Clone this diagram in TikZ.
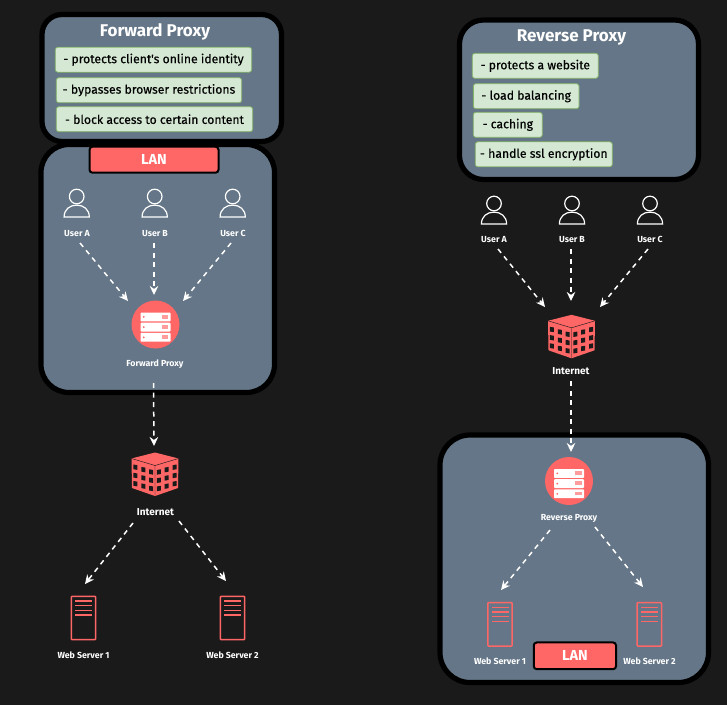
\documentclass[tikz,border=0pt]{standalone}
\usepackage{fontspec}
\setmainfont{Fira Sans}
\newfontfamily\medf{Fira Sans}[FakeBold=0.35]
\usetikzlibrary{arrows.meta}
\definecolor{bgc}{HTML}{1A1A1A}
\definecolor{panelc}{HTML}{647687}
\definecolor{greenf}{HTML}{D5E8D4}
\definecolor{greend}{HTML}{82B366}
\definecolor{redc}{HTML}{FF6666}
\tikzset{
  panel/.style={draw=black,fill=panelc,line width=5.2pt,rounded corners=#1},
  tagbox/.style={draw=greend,fill=greenf,line width=0.8pt,rounded corners=2.5pt,inner sep=0pt,outer sep=0pt,minimum height=25pt,text=black,font=\medf\fontsize{12.2}{14}\selectfont},
  lanbox/.style={draw=black,fill=redc,line width=2pt,rounded corners=3pt,inner sep=0pt,outer sep=0pt,text=white,font=\bfseries\fontsize{14.5}{16}\selectfont},
  titletext/.style={text=white,inner sep=0pt,font=\bfseries\fontsize{17}{18}\selectfont},
  smalltext/.style={text=white,inner sep=0pt,font=\bfseries\fontsize{8.8}{10}\selectfont},
  midtext/.style={text=white,inner sep=0pt,font=\bfseries\fontsize{10}{12}\selectfont},
  flow/.style={draw=white,line width=1.5pt,dash pattern=on 5pt off 4.5pt,-{Stealth[length=9pt,width=8.5pt]}},
  usericon/.style={draw=white,line width=1.2pt},
  srvline/.style={draw=redc,line width=1.5pt},
}
% user icon: #1 name, #2 position
\newcommand{\usersym}[2]{\begin{scope}[shift={(#2)}]
  \coordinate (#1) at (0,0);
  \draw[usericon] (0,0) circle[radius=7.3pt];
  \draw[usericon] (-12.6,20.5) .. controls (-12.6,13) and (-7,8.6) .. (0,8.6) .. controls (7,8.6) and (12.6,13) .. (12.6,20.5) -- cycle;
\end{scope}}
% proxy icon
\newcommand{\proxysym}[2]{\begin{scope}[shift={(#2)}]
  \node[circle,fill=redc,minimum size=48pt,inner sep=0pt,outer sep=0pt] (#1) at (0,0) {};
  \foreach \yy in {-7.6,2.6,12.8}{
    \fill[white,rounded corners=0.8pt] (-15,\yy-4.4) rectangle (15,\yy+4.4);
    \fill[redc] (-11.7,\yy) circle[radius=1pt];
    \fill[redc!65!white] (6,\yy-2.2) rectangle (12.5,\yy+1.6);
  }
\end{scope}}
% building icon
\newcommand{\bldgsym}[2]{\begin{scope}[shift={(#2)}]
  \coordinate (#1) at (0,0);
  \fill[redc] (0,-21.5) -- (23.5,-15.5) -- (23,14) -- (0,22) -- (-23,14) -- (-23.5,-15.5) -- cycle;
  \draw[bgc,line width=0.45pt] (-23.5,-15.5) -- (0,-8.5) -- (23.5,-15.5) (0,-8.5) -- (0,22);
  \foreach \uu in {0.17,0.52,0.85}{\foreach \vv in {7.5,15.8,24}{
    \pgfmathsetmacro{\xa}{-23.5+23*\uu}
    \pgfmathsetmacro{\ya}{-15.5+7*\uu+\vv}
    \fill[bgc] (\xa-2,\ya-2.7) -- (\xa+2,\ya-2) -- (\xa+2,\ya+2.7) -- (\xa-2,\ya+2) -- cycle;
    \fill[bgc] (-\xa+2,\ya-2.7) -- (-\xa-2,\ya-2) -- (-\xa-2,\ya+2.7) -- (-\xa+2,\ya+2) -- cycle;
  }}
\end{scope}}
% web server icon
\newcommand{\serversym}[2]{\begin{scope}[shift={(#2)}]
  \coordinate (#1) at (0,0);
  \draw[srvline,rounded corners=0.8pt] (-12.2,-21.7) rectangle (12.2,21.7);
  \foreach \yy in {-17,-12.4,-7.6,-2.9}{\draw[srvline] (-8.5,\yy) -- (8.5,\yy);}
\end{scope}}
\begin{document}
\begin{tikzpicture}[x=1pt,y=-1pt]
\useasboundingbox (0,0) rectangle (727,705);
\fill[bgc] (0,0) rectangle (727,705);

% --- panels
\draw[panel=20pt] (42,14.5) rectangle (281.5,141.5);
\draw[panel=28pt] (41,144.5) rectangle (274.5,392.5);
\draw[panel=24pt] (459.5,20) rectangle (698.5,179.5);
\draw[panel=30pt] (440,435) rectangle (708.5,682.5);

% --- forward proxy notes
\node[titletext] (ftitle) at (155,31.5) {Forward Proxy};
\node[tagbox,minimum width=196.4pt] (f1) at (153.5,59.7) {\raisebox{-1pt}{- protects client's online identity}};
\node[tagbox,minimum width=185.4pt] (f2) at (149,90.2) {\raisebox{-1pt}{- bypasses browser restrictions}};
\node[tagbox,minimum width=196.4pt] (f3) at (154.5,119.2) {\raisebox{-1pt}{- block access to certain content}};
\node[lanbox,minimum width=129pt,minimum height=26pt] (lan1) at (154,159.7) {LAN};

% --- reverse proxy notes
\node[titletext] (rtitle) at (571.5,37.5) {Reverse Proxy};
\node[tagbox,minimum width=126pt] (r1) at (535.3,65.8) {\raisebox{-1pt}{- protects a website}};
\node[tagbox,minimum width=105.7pt] (r2) at (526.2,96.2) {\raisebox{-1pt}{- load balancing}};
\node[tagbox,minimum width=69pt] (r3) at (507.8,124.8) {\raisebox{-1pt}{- caching}};
\node[tagbox,minimum width=137pt] (r4) at (543.8,154.3) {\raisebox{-1pt}{- handle ssl encryption}};
\node[lanbox,minimum width=82.3pt,minimum height=26.7pt] (lan2) at (574.9,655.8) {LAN};

% --- left column
\usersym{fua}{76.7,196.5}
\usersym{fub}{154.7,196.5}
\usersym{fuc}{232.7,196.5}
\node[smalltext] (fla) at (77,233.5) {User A};
\node[smalltext] (flb) at (155,233.5) {User B};
\node[smalltext] (flc) at (233,233.5) {User C};
\proxysym{fp}{155.5,324.5}
\node[smalltext] (flp) at (155,364.5) {Forward Proxy};
\bldgsym{fi}{155,474}
\node[midtext] (fli) at (155.5,512) {Internet};
\serversym{fs1}{83.5,618}
\serversym{fs2}{232.5,618}
\node[smalltext] (fls1) at (83.5,655.5) {Web Server 1};
\node[smalltext] (fls2) at (232.5,655.5) {Web Server 2};

% --- right column
\usersym{rua}{494,203.5}
\usersym{rub}{572,203.5}
\usersym{ruc}{650,203.5}
\node[smalltext] (rla) at (494,239.5) {User A};
\node[smalltext] (rlb) at (572,239.5) {User B};
\node[smalltext] (rlc) at (650,239.5) {User C};
\bldgsym{ri}{571.5,336.3}
\node[midtext] (rli) at (571,371) {Internet};
\proxysym{rp}{569,481}
\node[smalltext] (rlp) at (569,518.5) {Reverse Proxy};
\serversym{rs1}{500,624.3}
\serversym{rs2}{649.3,624.3}
\node[smalltext] (rls1) at (500,661.5) {Web Server 1};
\node[smalltext] (rls2) at (649.5,661.5) {Web Server 2};

% --- connectors
\draw[flow] ([shift={(3,9.5)}]fla.center) -- ([shift={(-27.5,-23.5)}]fp.center);
\draw[flow] ([shift={(-1,9.5)}]flb.center) -- ([shift={(-1.5,-29.5)}]fp.center);
\draw[flow] ([shift={(-2,9.5)}]flc.center) -- ([shift={(27.5,-23.5)}]fp.center);
\draw[flow] ([shift={(-1.5,18.5)}]flp.center) -- ([shift={(-1,-28)}]fi);
\draw[flow] ([shift={(-22.5,11)}]fli.center) -- ([shift={(1.5,-34)}]fs1);
\draw[flow] ([shift={(23.5,9)}]fli.center) -- ([shift={(-6.5,-37)}]fs2);

\draw[flow] ([shift={(4,9.5)}]rla.center) -- ([shift={(-26.5,-29.3)}]ri);
\draw[flow] ([shift={(-1,9.5)}]rlb.center) -- ([shift={(-0.5,-35.3)}]ri);
\draw[flow] ([shift={(-2,9.5)}]rlc.center) -- ([shift={(28.5,-29.3)}]ri);
\draw[flow] ([shift={(0,10)}]rli.center) -- ([shift={(2,-29)}]rp.center);
\draw[flow] ([shift={(-19,49)}]rp.center) -- ([shift={(1,-34.3)}]rs1);
\draw[flow] ([shift={(26,46)}]rp.center) -- ([shift={(-6.3,-37.3)}]rs2);
\end{tikzpicture}
\end{document}
